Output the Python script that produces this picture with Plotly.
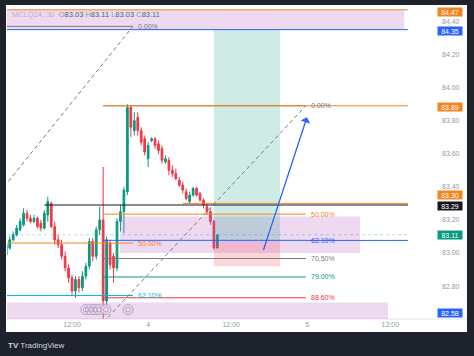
import plotly.graph_objects as go

# ---------------- data ----------------
bar_idx = list(range(62))
opens = [82.99, 83.03, 83.08, 83.11, 83.14, 83.17, 83.24, 83.21, 83.19, 83.21,
         83.18, 83.15, 83.23, 83.30, 83.16, 83.08, 83.05, 82.98, 82.91, 82.85,
         82.77, 82.84, 82.79, 82.86, 82.92, 83.07, 82.98, 83.14, 83.20, 82.71,
         83.06, 82.98, 82.91, 83.19, 83.25, 83.37, 83.88, 83.74, 83.82, 83.74,
         83.69, 83.57, 83.68, 83.69, 83.66, 83.63, 83.55, 83.56, 83.50, 83.48,
         83.44, 83.41, 83.37, 83.31, 83.35, 83.39, 83.36, 83.32, 83.28, 83.25,
         83.19, 83.03]
highs = [83.06, 83.10, 83.13, 83.17, 83.21, 83.27, 83.26, 83.23, 83.23, 83.22,
         83.20, 83.26, 83.34, 83.31, 83.19, 83.11, 83.08, 83.01, 82.93, 82.87,
         82.86, 82.86, 82.89, 82.94, 83.09, 83.09, 83.16, 83.28, 83.52, 83.10,
         83.08, 83.00, 83.21, 83.29, 83.40, 83.90, 83.89, 83.85, 83.85, 83.76,
         83.71, 83.67, 83.70, 83.70, 83.68, 83.65, 83.59, 83.58, 83.53, 83.51,
         83.46, 83.43, 83.39, 83.37, 83.40, 83.40, 83.37, 83.33, 83.30, 83.27,
         83.20, 83.11]
lows = [82.97, 83.02, 83.07, 83.10, 83.13, 83.16, 83.19, 83.18, 83.18, 83.15,
        83.13, 83.14, 83.19, 83.15, 83.05, 83.03, 82.96, 82.89, 82.82, 82.74,
        82.73, 82.76, 82.77, 82.84, 82.90, 82.95, 82.96, 83.11, 82.58, 82.68,
        82.90, 82.82, 82.89, 83.13, 83.12, 83.35, 83.70, 83.71, 83.71, 83.65,
        83.59, 83.52, 83.67, 83.63, 83.60, 83.54, 83.54, 83.47, 83.46, 83.44,
        83.40, 83.36, 83.32, 83.30, 83.34, 83.34, 83.31, 83.27, 83.23, 83.17,
        83.02, 83.03]
closes = [83.05, 83.08, 83.11, 83.15, 83.19, 83.24, 83.21, 83.19, 83.21, 83.16,
          83.15, 83.24, 83.31, 83.16, 83.08, 83.05, 82.98, 82.91, 82.85, 82.77,
          82.84, 82.79, 82.86, 82.92, 83.07, 82.98, 83.14, 83.20, 82.71, 83.08,
          82.93, 82.91, 83.19, 83.25, 83.38, 83.88, 83.76, 83.80, 83.74, 83.67,
          83.61, 83.65, 83.69, 83.65, 83.62, 83.56, 83.57, 83.50, 83.48, 83.45,
          83.41, 83.38, 83.33, 83.35, 83.39, 83.35, 83.32, 83.29, 83.25, 83.19,
          83.03, 83.11]

time_tick_pos = [19, 41, 65, 87, 111]
time_tick_text = ["12:00", "4", "12:00", "5", "12:00"]
price_ticks = [82.8, 83.0, 83.2, 83.4, 83.6, 83.8, 84.0, 84.2, 84.4]

symbol_text = "MCLQ24, 30"
last_ohlc = {"O": 83.03, "H": 83.11, "L": 83.03, "C": 83.11}

x_range = [0.21, 116.1]
y_range = [82.601, 84.499]

ORANGE = "#f5841f"
BLUE = "#2962ff"
BLACK = "#131722"
GREEN = "#089981"
RED = "#f23645"
GRAY = "#787b86"
CYAN = "#00bcd4"
TEAL = "#089981"
PURPLE = "rgba(186,104,200,0.25)"

# horizontal rays
ray_prices = [84.47, 84.35, 83.89, 83.30, 83.29, 83.076, 82.58]
ray_starts = [-100, -100, 28, 51, 11, 86.6, 28]
ray_colors = [ORANGE, BLUE, ORANGE, ORANGE, BLACK, BLUE, BLUE]

# price-axis labels
label_prices = [84.47, 84.35, 83.89, 83.30, 83.29, 83.11, 82.58]
label_colors = [ORANGE, BLUE, ORANGE, ORANGE, BLACK, GREEN, BLUE]
label_yshift = [-2, -1, -1, 8, -1, 0, 0]

# fib retracements
fib1_x = [-64, 36.6]
fib1_p = [81.75, 84.37]
fib1_levels = [0.0, 0.5, 0.621]
fib1_colors = [GRAY, ORANGE, CYAN]

fib2_x = [28, 86.6]
fib2_p = [82.58, 83.89]
fib2_levels = [0.0, 0.5, 0.621, 0.705, 0.79, 0.886]
fib2_colors = [GRAY, ORANGE, BLUE, GRAY, TEAL, RED]

# purple zones
zone_x0 = [-100, 32.9, -100]
zone_x1 = [115, 102.2, 110.3]
zone_p0 = [84.35, 83.00, 82.40]
zone_p1 = [84.47, 83.22, 82.70]

# long position
pos_x = [60, 79.1]
pos_target, pos_entry, pos_stop = 84.35, 83.07, 82.92

# arrow
arrow_x = [74.2, 86.9]
arrow_p = [83.01, 83.82]

# event markers
event_x = [23.0, 24.4, 25.6, 26.8, 28.8, 35.2, 116.4]

# ---------------- figure ----------------
W, H = 474, 356
ML, MR, MT, MB = 7, 66, 5, 37
PW = W - ML - MR
PH = H - MT - MB

fig = go.Figure()

fig.add_trace(go.Candlestick(
    x=bar_idx, open=opens, high=highs, low=lows, close=closes,
    increasing=dict(line=dict(color=GREEN, width=1), fillcolor=GREEN),
    decreasing=dict(line=dict(color=RED, width=1), fillcolor=RED),
    whiskerwidth=0, showlegend=False, hoverinfo="skip",
))

ev_y = y_range[0] + (y_range[1] - y_range[0]) * 0.03
fig.add_trace(go.Scatter(
    x=event_x, y=[ev_y] * len(event_x), mode="markers",
    marker=dict(symbol="circle", size=10, color="rgba(255,255,255,0.85)",
                line=dict(color="#b2b5be", width=1)),
    showlegend=False, hoverinfo="skip", cliponaxis=False,
))
fig.add_trace(go.Scatter(
    x=event_x, y=[ev_y] * len(event_x), mode="markers",
    marker=dict(symbol="circle-open", size=5, color="#b2b5be", line=dict(width=1)),
    showlegend=False, hoverinfo="skip", cliponaxis=False,
))

shapes = []
# white panel on dark frame
shapes.append(dict(type="rect", xref="paper", yref="paper",
                   x0=-1 / PW, x1=(467 - ML) / PW, y0=-13 / PH, y1=1.0,
                   fillcolor="white", line=dict(width=0), layer="below"))
# time axis top border
shapes.append(dict(type="line", xref="paper", yref="paper",
                   x0=0, x1=(467 - ML) / PW, y0=0, y1=0,
                   line=dict(color="#e0e3eb", width=1), layer="above"))

# zones
for x0, x1, p0, p1 in zip(zone_x0, zone_x1, zone_p0, zone_p1):
    shapes.append(dict(type="rect", xref="x", yref="y", x0=x0, x1=x1, y0=p0, y1=p1,
                       fillcolor=PURPLE, line=dict(width=0), layer="above"))

# long position
shapes.append(dict(type="rect", xref="x", yref="y", x0=pos_x[0], x1=pos_x[1],
                   y0=pos_entry, y1=pos_target, fillcolor="rgba(8,153,129,0.2)",
                   line=dict(width=0), layer="above"))
shapes.append(dict(type="rect", xref="x", yref="y", x0=pos_x[0], x1=pos_x[1],
                   y0=pos_stop, y1=pos_entry, fillcolor="rgba(242,54,69,0.2)",
                   line=dict(width=0), layer="above"))

# last price line
shapes.append(dict(type="line", xref="x", yref="y", x0=-100, x1=200,
                   y0=closes[-1], y1=closes[-1],
                   line=dict(color=GREEN, width=1, dash="dot"), opacity=0.3, layer="above"))

annotations = []


def add_fib(fx, fp, levels, colors):
    p100, p0 = fp
    for lvl, col in zip(levels, colors):
        pr = p0 - lvl * (p0 - p100)
        shapes.append(dict(type="line", xref="x", yref="y", x0=fx[0], x1=fx[1],
                           y0=pr, y1=pr, line=dict(color=col, width=1), layer="above"))
        annotations.append(dict(x=fx[1], y=pr, xref="x", yref="y", xanchor="left",
                                yanchor="middle", xshift=3, showarrow=False,
                                text=f"{lvl * 100:.2f}%",
                                font=dict(size=7, color=col, family="Liberation Sans")))
    shapes.append(dict(type="line", xref="x", yref="y", x0=fx[0], x1=fx[1],
                       y0=fp[0], y1=fp[1],
                       line=dict(color=GRAY, width=1, dash="4px,3px"), layer="above"))


add_fib(fib1_x, fib1_p, fib1_levels, fib1_colors)
add_fib(fib2_x, fib2_p, fib2_levels, fib2_colors)

# rays
for pr, xs, col in zip(ray_prices, ray_starts, ray_colors):
    shapes.append(dict(type="line", xref="x", yref="y", x0=xs, x1=x_range[1],
                       y0=pr, y1=pr, line=dict(color=col, width=1), layer="above"))

# arrow
annotations.append(dict(x=arrow_x[1], y=arrow_p[1], ax=arrow_x[0], ay=arrow_p[0],
                        xref="x", yref="y", axref="x", ayref="y", showarrow=True,
                        arrowhead=1, arrowsize=1.3, arrowwidth=1.3, arrowcolor=BLUE,
                        text=""))

# price axis labels
for pr, col, ys in zip(label_prices, label_colors, label_yshift):
    if pr < y_range[0]:
        pos = dict(yref="paper", y=0, yanchor="bottom", yshift=1)
    else:
        pos = dict(yref="y", y=pr, yanchor="middle", yshift=ys)
    annotations.append(dict(xref="paper", x=1, xanchor="left", xshift=29,
                            text=f"{pr:.2f}", showarrow=False, bgcolor=col,
                            width=24, height=8, borderpad=0,
                            font=dict(size=7, color="white", family="Liberation Sans"),
                            **pos))

# header
ohlc_txt = " ".join(
    f"<span style='color:#9598a1'>{k}</span><span style='color:#3b6f6a'>{v:.2f}</span>"
    for k, v in last_ohlc.items())
annotations.append(dict(xref="paper", yref="paper", x=0, y=1, xshift=3, yshift=-9,
                        xanchor="left", yanchor="middle", showarrow=False,
                        text=f"<span style='color:#b2b5be'>{symbol_text}</span>  {ohlc_txt}",
                        font=dict(size=7.5, family="Liberation Sans")))
# TradingView logo text
annotations.append(dict(xref="paper", yref="paper", x=0, y=0, xshift=-1, yshift=-26,
                        xanchor="left", yanchor="middle", showarrow=False,
                        text="<b>TV</b> TradingView",
                        font=dict(size=8, color="#d1d4dc", family="Liberation Sans")))

fig.update_layout(
    width=W, height=H,
    margin=dict(l=ML, r=MR, t=MT, b=MB, pad=0, autoexpand=False),
    paper_bgcolor="#1e222d", plot_bgcolor="white",
    shapes=shapes, annotations=annotations,
    showlegend=False,
    xaxis=dict(range=x_range, showgrid=False, zeroline=False, showline=False,
               rangeslider=dict(visible=False), tickmode="array",
               tickvals=time_tick_pos, ticktext=time_tick_text, ticks="",
               tickfont=dict(size=7, color="#9598a1", family="Liberation Sans"),
               fixedrange=True, automargin=False),
    yaxis=dict(range=y_range, side="right", showgrid=False, zeroline=False,
               showline=False, tickmode="array", tickvals=price_ticks,
               ticktext=[f"{p:.2f}" for p in price_ticks], ticks="",
               ticklabelstandoff=33,
               tickfont=dict(size=7, color="#9598a1", family="Liberation Sans"),
               fixedrange=True, automargin=False),
)

fig.write_html(
    "out.html",
    config={"displayModeBar": False},
    post_script="document.body.style.margin='0';document.body.style.padding='0';"
                "document.body.style.overflow='hidden';"
                "document.body.style.background='#1e222d';",
)
